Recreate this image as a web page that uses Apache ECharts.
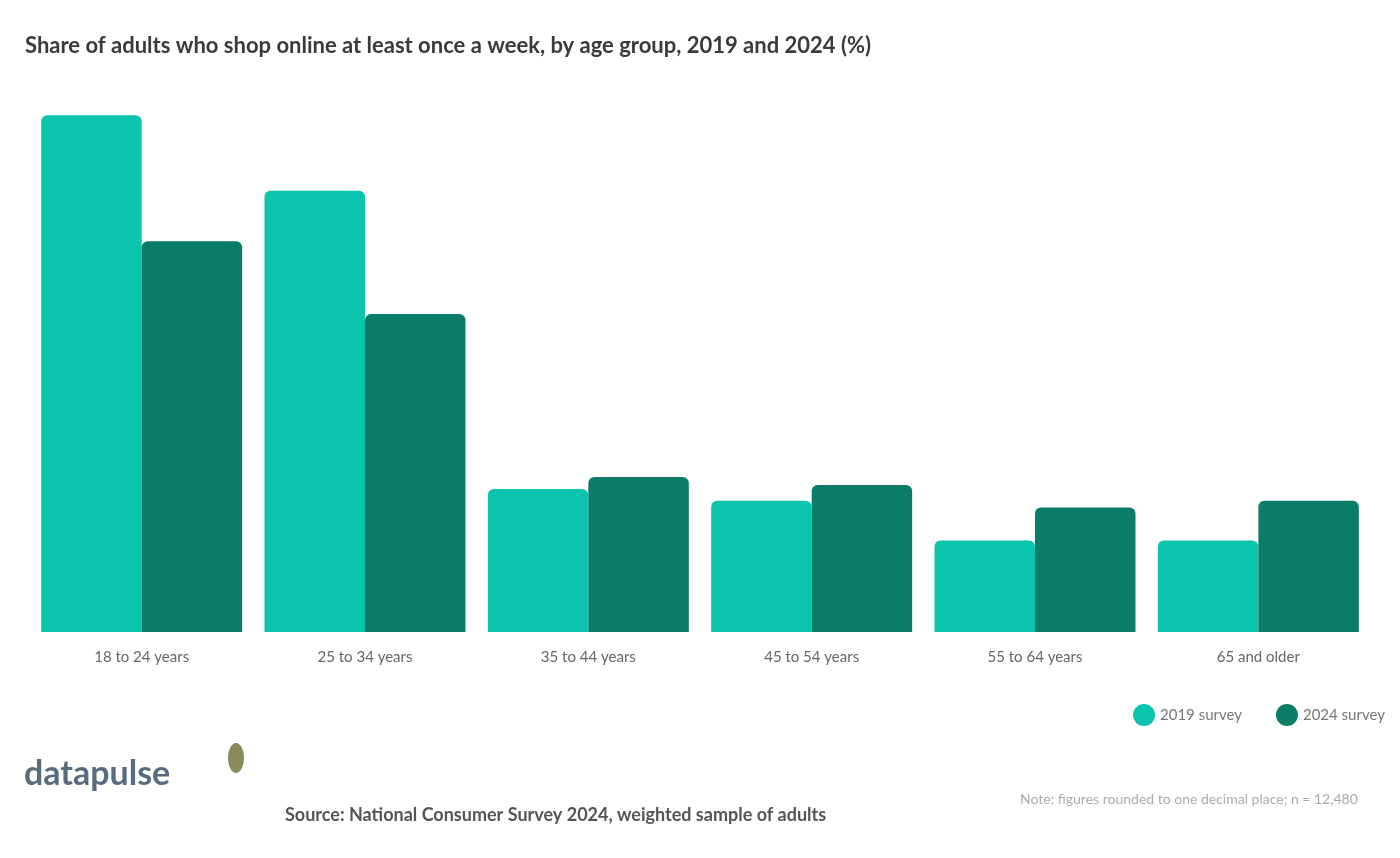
<!DOCTYPE html>
<html>
<head>
<meta charset="utf-8">
<script src="https://cdn.jsdelivr.net/npm/echarts@6/dist/echarts.min.js"></script>
<style>
html,body{margin:0;padding:0;background:#fff;}
#chart{width:1400px;height:858px;}
</style>
</head>
<body>
<div id="chart"></div>
<script>
const titleText = "Share of adults who shop online at least once a week, by age group, 2019 and 2024 (%)";
const categories = ["18 to 24 years", "25 to 34 years", "35 to 44 years", "45 to 54 years", "55 to 64 years", "65 and older"];
const seriesNames = ["2019 survey", "2024 survey"];
const values2019 = [39.0, 33.3, 10.8, 9.9, 6.9, 6.9];
const values2024 = [29.5, 24.0, 11.7, 11.1, 9.4, 9.9];
const sourceBold = "Source: National Consumer Survey 2024, weighted sample of adults";
const sourceLight = "Note: figures rounded to one decimal place; n = 12,480";

const chart = echarts.init(document.getElementById('chart'));
chart.setOption({
  backgroundColor: '#ffffff',
  animation: false,
  title: {
    text: titleText,
    left: 20, top: 30,
    textStyle: {fontFamily: 'Lato', fontSize: 22, fontWeight: 'bold', color: '#3a3a3a'}
  },
  legend: {
    data: seriesNames,
    orient: 'horizontal',
    left: 1128, top: 699, width: 300,
    icon: 'circle', itemWidth: 22, itemHeight: 22, itemGap: 34,
    textStyle: {fontFamily: 'Lato', fontSize: 15, color: '#777'}
  },
  grid: {left: 30, right: 30, top: 102, bottom: 226, containLabel: false},
  xAxis: {
    type: 'category', data: categories,
    axisLine: {show: false}, axisTick: {show: false},
    axisLabel: {margin: 18, fontFamily: 'Lato', fontSize: 15, color: '#666'}
  },
  yAxis: {type: 'value', min: 0, max: 40, show: false, splitLine: {show: false}},
  series: [
    {name: seriesNames[0], type: 'bar', data: values2019, barGap: '0%', barCategoryGap: '10%',
     itemStyle: {color: '#0bc4ad', borderRadius: [6, 6, 0, 0]}},
    {name: seriesNames[1], type: 'bar', data: values2024, barGap: '0%', barCategoryGap: '10%',
     itemStyle: {color: '#0a7c6a', borderRadius: [6, 6, 0, 0]}}
  ],
  graphic: [
    {type: 'text', left: 24, top: 757, style: {text: 'datapulse', font: 'bold 34px Lato', fill: '#5a6b7d'}},
    {type: 'ellipse', shape: {cx: 236, cy: 758, rx: 8, ry: 15}, style: {fill: '#8a8a5a'}},
    {type: 'text', left: 285, top: 806, style: {text: sourceBold, font: 'bold 18px Lato', fill: '#555'}},
    {type: 'text', left: 1020, top: 792, style: {text: sourceLight, font: '14px Lato', fill: '#aaa'}}
  ]
});
</script>
</body>
</html>
